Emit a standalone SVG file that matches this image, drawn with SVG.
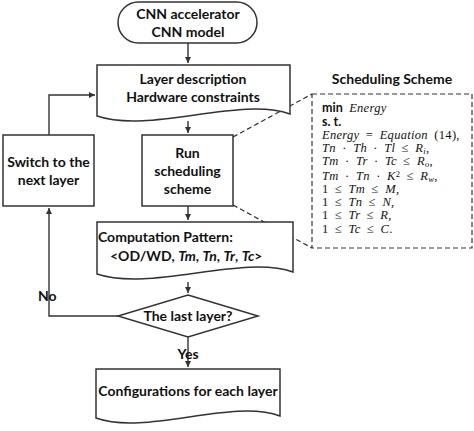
<svg xmlns="http://www.w3.org/2000/svg" width="474" height="431" viewBox="0 0 474 431">
<defs>
<marker id="ah" viewBox="0 0 10 10" refX="10" refY="5" markerWidth="6" markerHeight="6" orient="auto" markerUnits="userSpaceOnUse">
<path d="M0,0 L10,5 L0,10 Z" fill="#333"/>
</marker>
<style>
.s{fill:#fff;stroke:#333;stroke-width:1.5}
.t{font-family:Lato,"Liberation Sans",sans-serif;font-weight:bold;font-size:14px;fill:#111;text-anchor:middle}
.tl{font-family:Lato,"Liberation Sans",sans-serif;font-weight:bold;font-size:14px;fill:#111}
.m{font-family:"Liberation Serif",serif;font-style:italic;font-size:12.5px;fill:#111;word-spacing:3px;letter-spacing:0.3px}
.mb{font-family:Lato,"Liberation Sans",sans-serif;font-weight:bold;font-style:normal;font-size:12.5px;fill:#111;letter-spacing:0}
.c{fill:none;stroke:#333;stroke-width:1.4}
.d{fill:none;stroke:#333;stroke-width:1.2;stroke-dasharray:5,3}
</style>
</defs>
<rect width="474" height="431" fill="#fff"/>
<g id="connectors">
<path class="c" d="M188,43 V63" marker-end="url(#ah)"/>
<path class="c" d="M188,121 V133" marker-end="url(#ah)"/>
<path class="c" d="M188,206 V220" marker-end="url(#ah)"/>
<path class="c" d="M188,282 V293" marker-end="url(#ah)"/>
<path class="c" d="M188,337 V367" marker-end="url(#ah)"/>
<path class="c" d="M118,316 H49 V208" marker-end="url(#ah)"/>
<path class="c" d="M49,135 V95 H95" marker-end="url(#ah)"/>
<path class="d" d="M233,137 L312,94"/>
<path class="d" d="M233,205 L312,248"/>
<text class="tl" x="38" y="301">No</text>
<text class="t" x="188" y="359">Yes</text>
</g>
<g id="start">
<rect class="s" x="118" y="2" width="139" height="41" rx="20.5"/>
<text class="t" x="188" y="19">CNN accelerator</text>
<text class="t" x="188" y="37">CNN model</text>
</g>
<g id="layer-desc">
<path class="s" d="M97,65 H290 V114 C240,96 150,134 97,116 Z"/>
<text class="t" x="193" y="84">Layer description</text>
<text class="t" x="193" y="102">Hardware constraints</text>
</g>
<g id="switch">
<rect class="s" x="3" y="135" width="91" height="71"/>
<text class="t" x="48.5" y="167">Switch to the</text>
<text class="t" x="48.5" y="185">next layer</text>
</g>
<g id="run">
<rect class="s" x="142" y="135" width="91" height="71"/>
<text class="t" x="187.5" y="158">Run</text>
<text class="t" x="187.5" y="176">scheduling</text>
<text class="t" x="187.5" y="194">scheme</text>
</g>
<g id="pattern">
<path class="s" d="M97,222 H293 V272 C243,254 150,292 97,274 Z"/>
<text class="tl" x="98" y="242">Computation Pattern:</text>
<text class="tl" x="110" y="261">&lt;OD/WD, <tspan font-style="italic">Tm</tspan>, <tspan font-style="italic">Tn</tspan>, <tspan font-style="italic">Tr</tspan>, <tspan font-style="italic">Tc</tspan>&gt;</text>
</g>
<g id="decision">
<path class="s" d="M188,295 L258,316 L188,337 L118,316 Z"/>
<text class="t" x="188" y="321">The last layer?</text>
</g>
<g id="config">
<path class="s" d="M96,369 H280 V416 C232,398 146,436 96,418 Z"/>
<text class="t" x="188" y="396">Configurations for each layer</text>
</g>
<g id="scheme">
<text class="t" x="392" y="84">Scheduling Scheme</text>
<rect class="d" x="312" y="94" width="160" height="154" fill="#fff" stroke-width="1.7"/>
<text class="m" x="322" y="112"><tspan class="mb">min</tspan> Energy</text>
<text class="mb" x="322" y="126">s. t.</text>
<text class="m" x="322" y="139">Energy <tspan font-style="normal">=</tspan> Equation <tspan font-style="normal">(14),</tspan></text>
<text class="m" x="322" y="152">Tn <tspan font-style="normal">·</tspan> Th <tspan font-style="normal">·</tspan> Tl <tspan font-style="normal">≤</tspan> R<tspan font-size="8.5" dy="1.5">i</tspan><tspan dy="-1.5" font-style="normal">,</tspan></text>
<text class="m" x="322" y="165">Tm <tspan font-style="normal">·</tspan> Tr <tspan font-style="normal">·</tspan> Tc <tspan font-style="normal">≤</tspan> R<tspan font-size="8.5" dy="1.5">o</tspan><tspan dy="-1.5" font-style="normal">,</tspan></text>
<text class="m" x="322" y="180">Tm <tspan font-style="normal">·</tspan> Tn <tspan font-style="normal">·</tspan> K<tspan font-size="8.5" dy="-3.5" font-style="normal">2</tspan><tspan dy="3.5" font-style="normal"> ≤</tspan> R<tspan font-size="8.5" dy="1.5">w</tspan><tspan dy="-1.5" font-style="normal">,</tspan></text>
<text class="m" x="322" y="193"><tspan font-style="normal">1 ≤</tspan> Tm <tspan font-style="normal">≤</tspan> M<tspan font-style="normal">,</tspan></text>
<text class="m" x="322" y="206"><tspan font-style="normal">1 ≤</tspan> Tn <tspan font-style="normal">≤</tspan> N<tspan font-style="normal">,</tspan></text>
<text class="m" x="322" y="219"><tspan font-style="normal">1 ≤</tspan> Tr <tspan font-style="normal">≤</tspan> R<tspan font-style="normal">,</tspan></text>
<text class="m" x="322" y="233"><tspan font-style="normal">1 ≤</tspan> Tc <tspan font-style="normal">≤</tspan> C<tspan font-style="normal">.</tspan></text>
</g>
</svg>
